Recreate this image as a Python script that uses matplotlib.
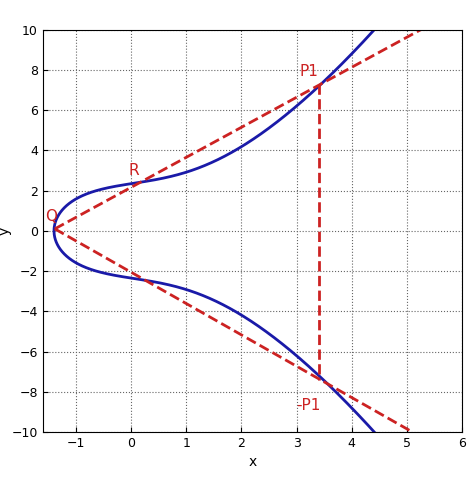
import numpy as np
import matplotlib
matplotlib.use("Agg")
import matplotlib.pyplot as plt

# curve y^2 = x^3 + a x + b
a, b = 2.0, 5.5
line1_x = [-1.38, 5.25]; line1_y = [0.1, 10.0]
line2_x = [-1.38, 5.1]; line2_y = [0.1, -10.0]
vert_x = [3.4, 3.4]; vert_y = [7.3, -7.4]
labels = [("Q", -1.55, 0.5), ("R", -0.05, 2.8), ("P1", 3.05, 7.7), ("-P1", 3.0, -8.9)]

fig = plt.figure(figsize=(4.74, 4.79), dpi=100)
ax = fig.add_axes([0.09, 0.098, 0.885, 0.84])
xs = np.linspace(-1.6, 4.6, 6000)
ys2 = xs**3 + a*xs + b
m = ys2 >= 0
xv = xs[m]; yv = np.sqrt(ys2[m])
ax.plot(np.concatenate([xv[::-1], xv]), np.concatenate([yv[::-1], -yv]), color="#1a1aa8", lw=2)
for lx, ly in [(line1_x, line1_y), (line2_x, line2_y), (vert_x, vert_y)]:
    ax.plot(lx, ly, "--", color="#cc2222", lw=2)
for t, x, y in labels:
    ax.text(x, y, t, color="#cc2222", fontsize=11)
ax.set_xlim(-1.6, 6); ax.set_ylim(-10, 10)
ax.set_xticks(range(-1, 7)); ax.set_yticks(range(-10, 11, 2))
ax.grid(True, linestyle=":", color="#666666", lw=0.8)
ax.tick_params(labelsize=9, direction="in")
ax.set_xlabel("x", fontsize=10); ax.set_ylabel("y", fontsize=10, labelpad=0)
fig.savefig("out.png")
